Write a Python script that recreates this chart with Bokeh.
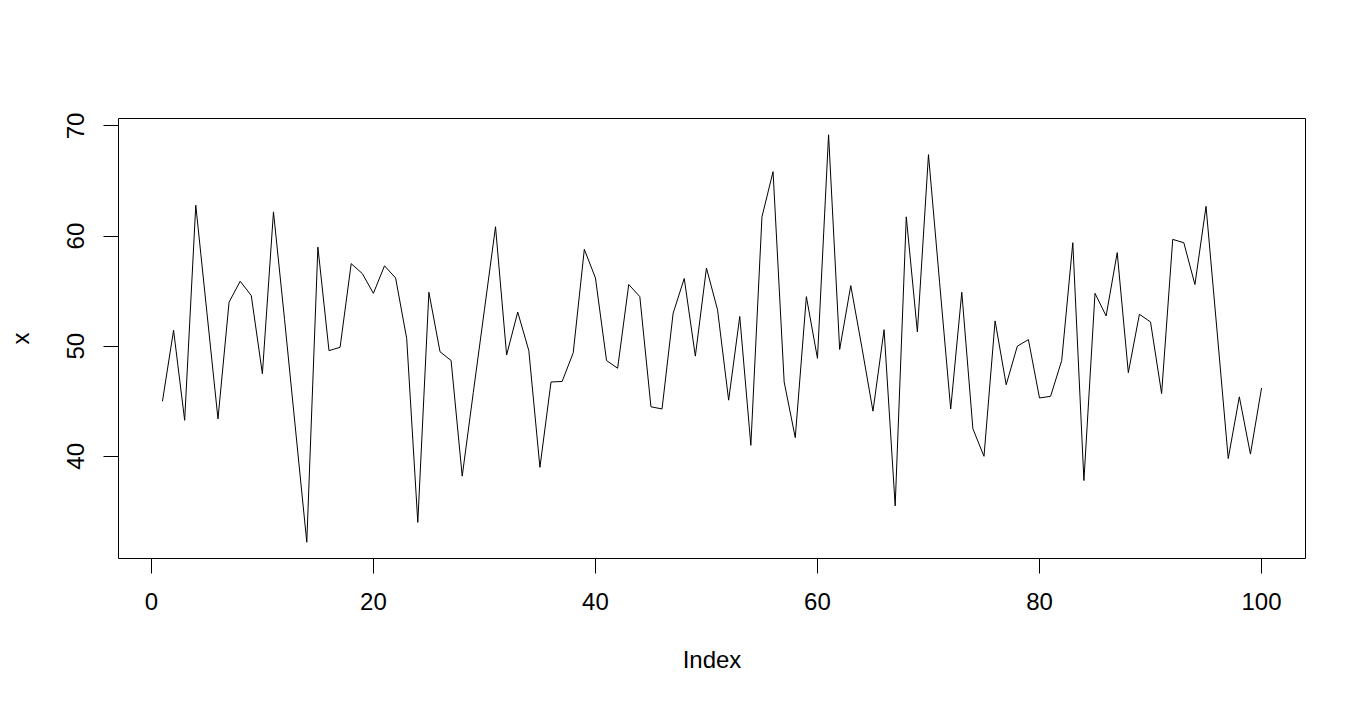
from bokeh.plotting import figure
from bokeh.models import Range1d, FixedTicker
from bokeh.embed import file_html
from bokeh.resources import INLINE

index = list(range(1, 101))
x_values = [
    45.0, 51.45, 43.27, 62.8, 53.1, 43.4, 54.0, 55.9, 54.6, 47.5,
    62.2, 52.4, 42.3, 32.2, 59.0, 49.6, 49.9, 57.5, 56.6, 54.8,
    57.3, 56.2, 50.7, 34.0, 54.9, 49.5, 48.7, 38.2, 45.8, 53.3,
    60.85, 49.2, 53.1, 49.6, 39.0, 46.75, 46.8, 49.4, 58.8, 56.2,
    48.7, 48.0, 55.6, 54.5, 44.5, 44.3, 53.0, 56.15, 49.1, 57.1,
    53.3, 45.1, 52.7, 41.0, 61.75, 65.85, 46.75, 41.7, 54.5, 48.9,
    69.2, 49.7, 55.5, 49.9, 44.1, 51.5, 35.5, 61.75, 51.3, 67.4,
    55.8, 44.3, 54.9, 42.5, 40.0, 52.3, 46.5, 50.0, 50.6, 45.3,
    45.45, 48.7, 59.4, 37.8, 54.8, 52.75, 58.5, 47.6, 52.9, 52.2,
    45.7, 59.7, 59.4, 55.6, 62.7, 51.3, 39.8, 45.4, 40.2, 46.2,
]
x_ticks = [0, 20, 40, 60, 80, 100]
y_ticks = [40, 50, 60, 70]

def padded(lo, hi, frac=0.04):
    d = (hi - lo) * frac
    return lo - d, hi + d

xr = padded(min(index), max(index))
yr = padded(min(x_values), max(x_values))

FONT = "Liberation Sans"
FS = "24px"

p = figure(
    output_backend="svg", toolbar_location=None,
    frame_width=1187, frame_height=440,
    min_border_left=118, min_border_top=118, min_border_right=53, min_border_bottom=131,
    x_range=Range1d(*xr), y_range=Range1d(*yr),
    background_fill_color="white", border_fill_color="white",
)
p.outline_line_color = "black"
p.outline_line_width = 1
p.grid.visible = False

p.line(index, x_values, line_color="black", line_width=1)

xa = p.xaxis[0]
xa.ticker = FixedTicker(ticks=x_ticks)
xa.bounds = (x_ticks[0], x_ticks[-1])
xa.axis_label = "Index"
ya = p.yaxis[0]
ya.ticker = FixedTicker(ticks=y_ticks)
ya.bounds = (y_ticks[0], y_ticks[-1])
ya.axis_label = "x"
ya.major_label_orientation = "vertical"

for ax in (xa, ya):
    ax.axis_line_color = "black"
    ax.major_tick_line_color = "black"
    ax.minor_tick_line_color = None
    ax.major_tick_in = 0
    ax.major_tick_out = 15
    ax.major_label_text_font = FONT
    ax.major_label_text_font_size = FS
    ax.major_label_text_color = "black"
    ax.axis_label_text_font = FONT
    ax.axis_label_text_font_size = FS
    ax.axis_label_text_font_style = "normal"
    ax.axis_label_text_color = "black"

xa.major_label_standoff = 19
xa.axis_label_standoff = 33
ya.major_label_standoff = 19
ya.axis_label_standoff = 31

open("out.html", "w").write(file_html(p, INLINE))
